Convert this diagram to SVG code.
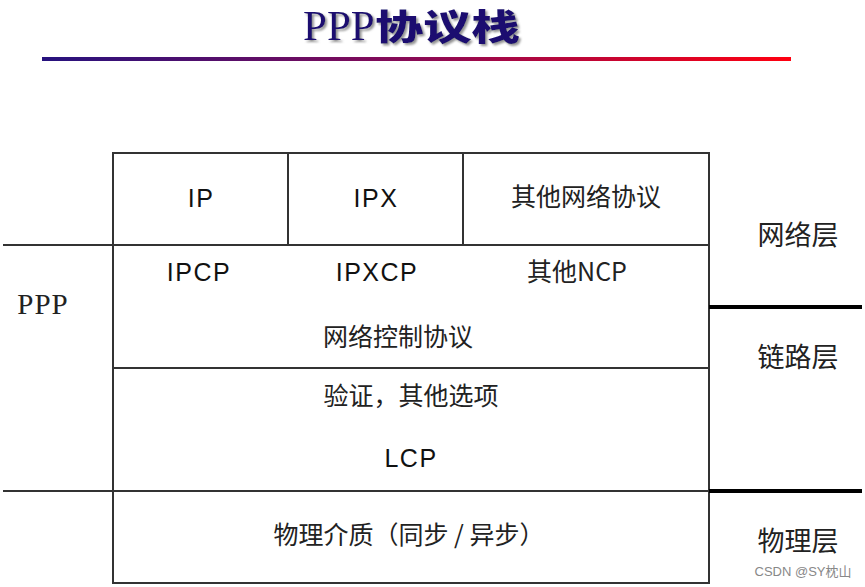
<svg xmlns="http://www.w3.org/2000/svg" width="865" height="587" viewBox="0 0 865 587">
<style>
.t{font-family:"Liberation Sans","Noto Sans CJK SC",sans-serif;font-size:25px;letter-spacing:1.5px;fill:#111;text-anchor:middle}
.c{font-family:"Noto Sans CJK SC",sans-serif;font-size:25px;fill:#222;text-anchor:middle}
.r{font-family:"Noto Sans CJK SC",sans-serif;font-size:27px;fill:#222;text-anchor:middle}
.ln{stroke:#333;stroke-width:2;fill:none}
.thick{stroke:#000;stroke-width:4}
</style>
<defs>
<linearGradient id="g" x1="0" x2="1" y1="0" y2="0">
<stop offset="0" stop-color="#26127e"/>
<stop offset="0.5" stop-color="#8a0a55"/>
<stop offset="1" stop-color="#ff0010"/>
</linearGradient>
<filter id="sh" x="-10%" y="-20%" width="130%" height="150%">
<feDropShadow dx="2" dy="2" stdDeviation="0.8" flood-color="#888" flood-opacity="0.9"/>
</filter>
</defs>
<g id="title" fill="#1a1070" filter="url(#sh)">
<text x="303" y="40" font-family="Liberation Serif,serif" font-size="43">PPP</text>
<text transform="translate(375,40) scale(1.38,1)" font-family="Noto Sans CJK SC,sans-serif" font-size="35" font-weight="900">协议栈</text>
</g>
<rect x="42" y="57" width="749" height="4" fill="url(#g)"/>
<g id="connectors">
<rect x="113" y="153" width="596" height="430" class="ln"/>
<line x1="288" y1="153" x2="288" y2="245" class="ln"/>
<line x1="463" y1="153" x2="463" y2="245" class="ln"/>
<line x1="3" y1="245" x2="709" y2="245" class="ln"/>
<line x1="113" y1="368" x2="709" y2="368" class="ln"/>
<line x1="3" y1="491" x2="709" y2="491" class="ln"/>
<line x1="709" y1="307" x2="862" y2="307" class="thick"/>
<line x1="709" y1="491" x2="862" y2="491" class="thick"/>
</g>
<g id="ip"><text class="t" x="201" y="207">IP</text></g>
<g id="ipx"><text class="t" x="376" y="207">IPX</text></g>
<g id="other-net"><text class="c" x="586" y="206">其他网络协议</text></g>
<g id="ppp"><text x="43" y="314" font-family="Liberation Serif,serif" font-size="29" letter-spacing="1" fill="#222" text-anchor="middle">PPP</text></g>
<g id="ncp">
<text class="t" x="199" y="281">IPCP</text>
<text class="t" x="377" y="281">IPXCP</text>
<text class="c" x="577" y="281">其他NCP</text>
<text class="c" x="398" y="346">网络控制协议</text>
</g>
<g id="lcp">
<text class="c" x="411" y="405">验证，其他选项</text>
<text class="t" x="411" y="467">LCP</text>
</g>
<g id="phys"><text class="c" x="409" y="544">物理介质（同步 / 异步）</text></g>
<g id="layers">
<text class="r" x="798" y="245">网络层</text>
<text class="r" x="798" y="367">链路层</text>
<text class="r" x="798" y="551">物理层</text>
</g>
<text x="803" y="576" font-family="Liberation Sans,'Noto Sans CJK SC',sans-serif" font-size="13" fill="#888" text-anchor="middle">CSDN @SY枕山</text>
</svg>
